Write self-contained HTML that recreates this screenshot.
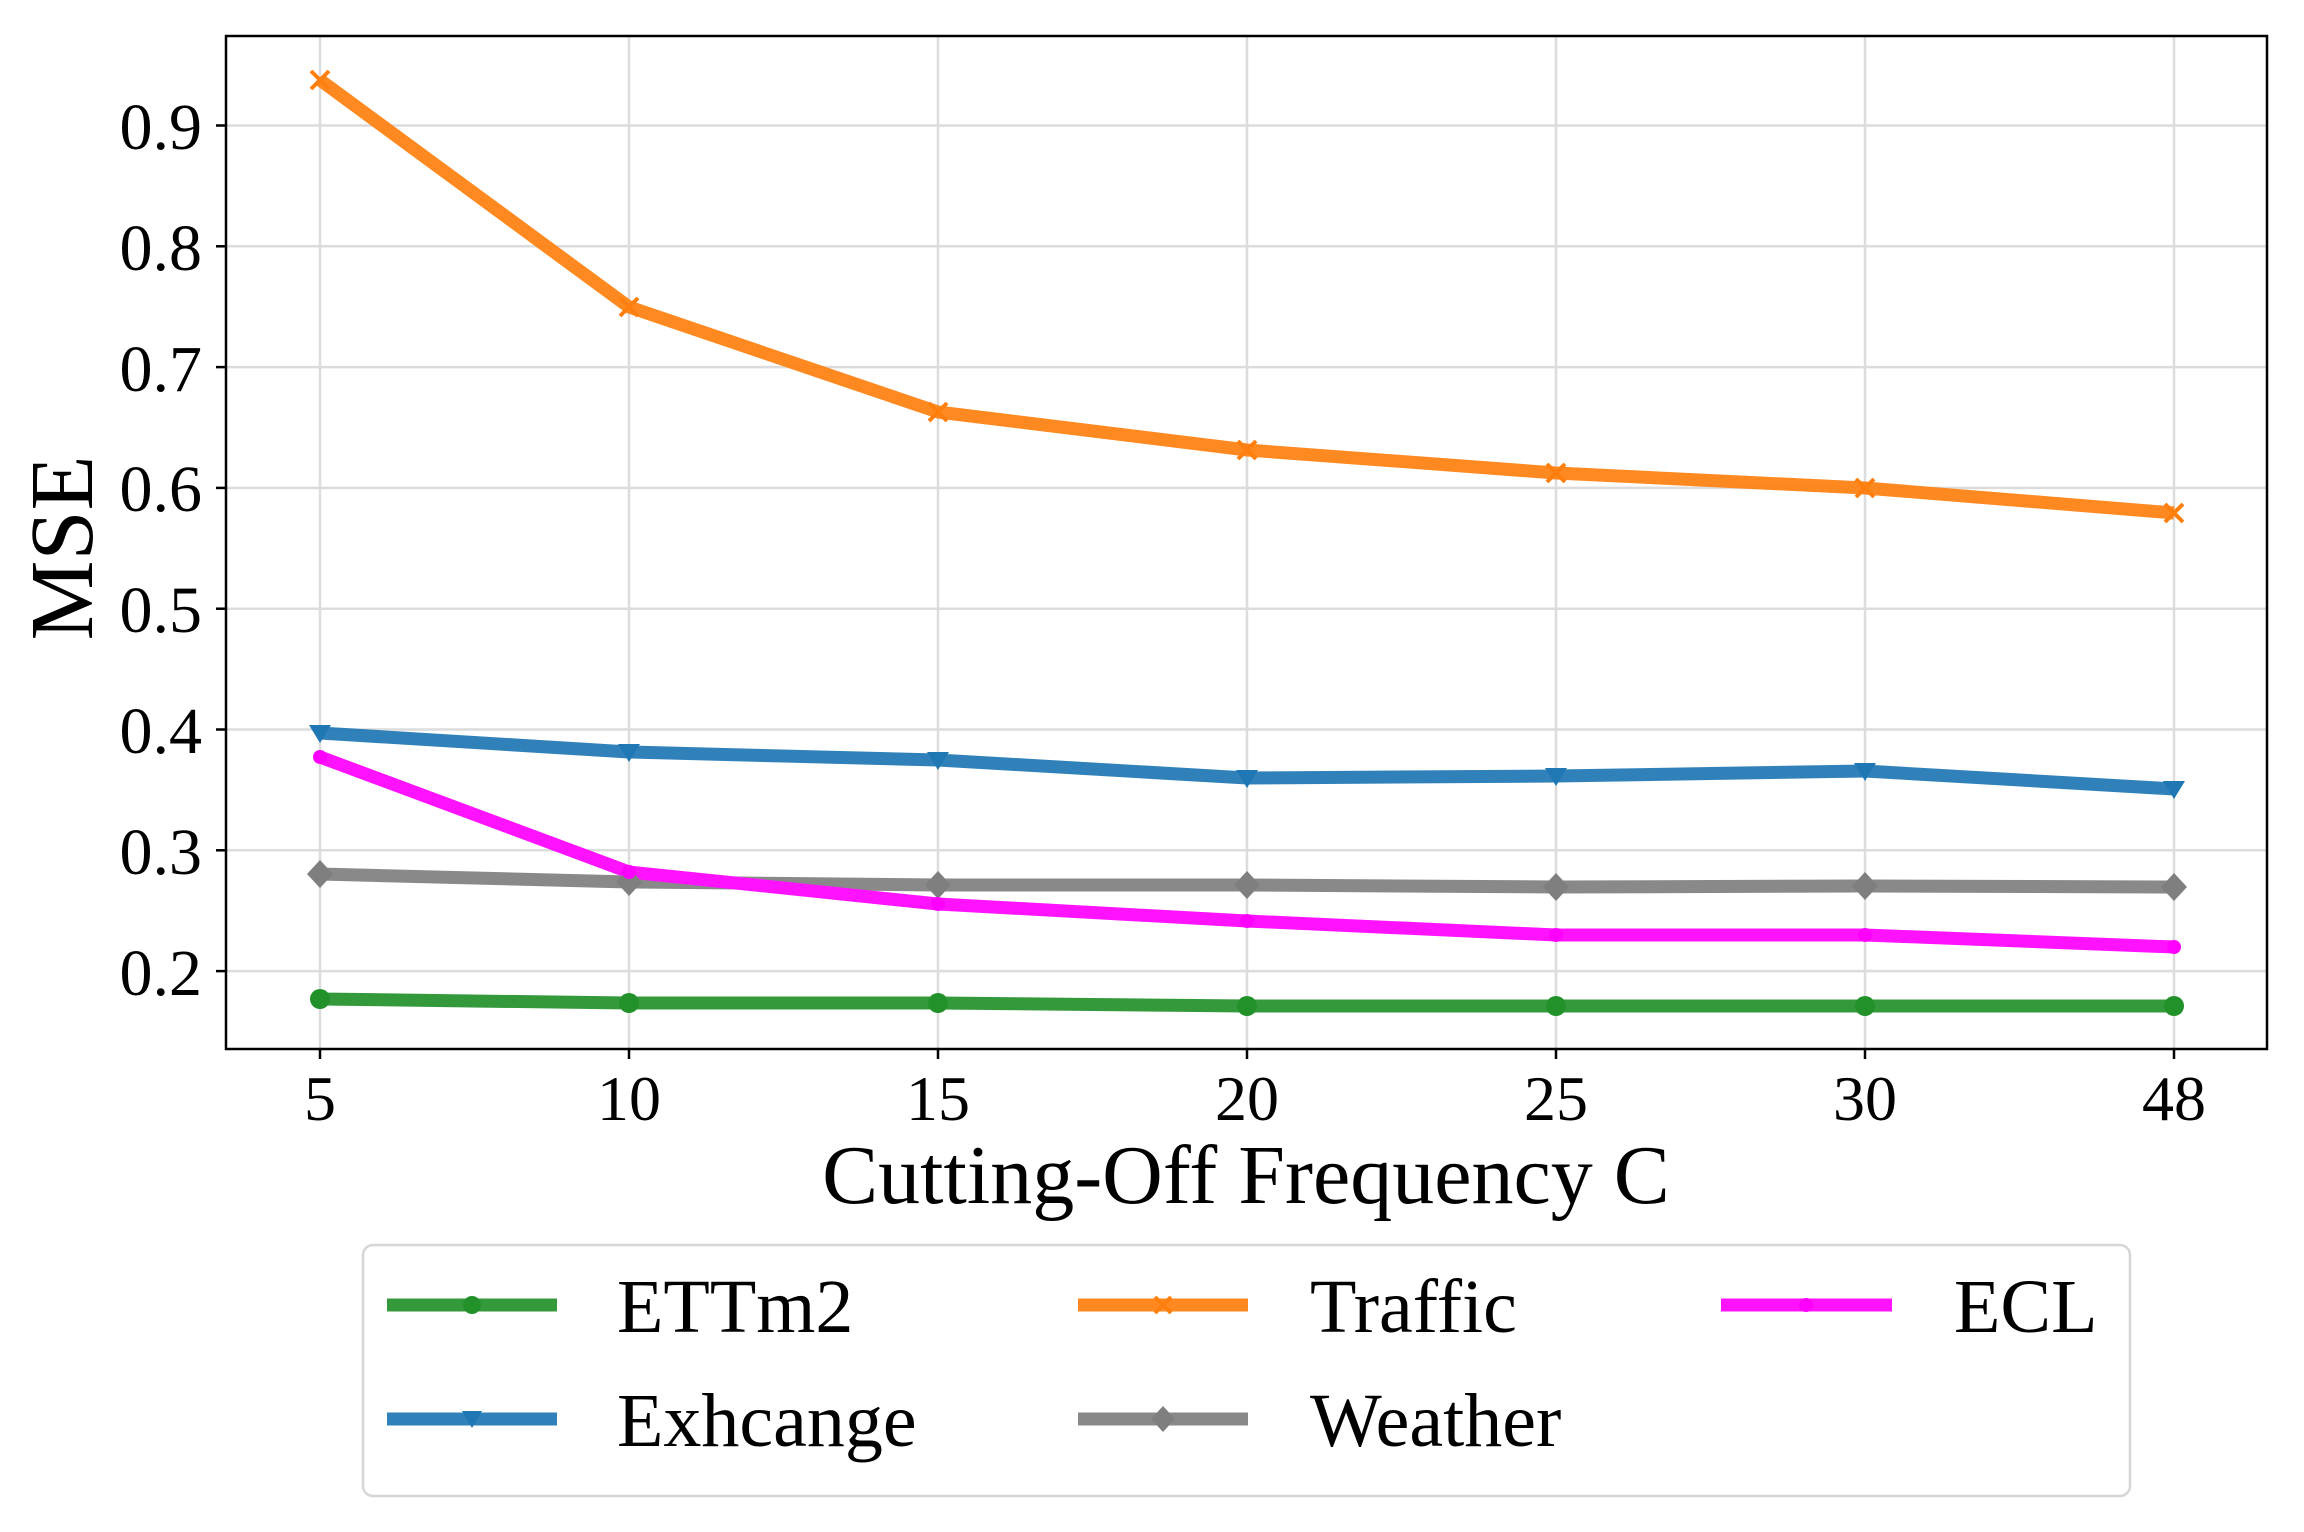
<!DOCTYPE html>
<html><head><meta charset="utf-8"><style>
html,body{margin:0;padding:0;background:#fff;}
svg{display:block;}
text{font-family:"Liberation Serif","DejaVu Serif",serif;fill:#000;}
</style></head><body>
<svg width="2304" height="1532" viewBox="0 0 2304 1532" xmlns="http://www.w3.org/2000/svg">
<rect width="2304" height="1532" fill="#fff"/>
<g stroke="#dcdcdc" stroke-width="2.5">
<line x1="226" y1="125.5" x2="2267" y2="125.5"/>
<line x1="226" y1="246.3" x2="2267" y2="246.3"/>
<line x1="226" y1="367.1" x2="2267" y2="367.1"/>
<line x1="226" y1="487.9" x2="2267" y2="487.9"/>
<line x1="226" y1="608.7" x2="2267" y2="608.7"/>
<line x1="226" y1="729.5" x2="2267" y2="729.5"/>
<line x1="226" y1="850.3" x2="2267" y2="850.3"/>
<line x1="226" y1="971.1" x2="2267" y2="971.1"/>
<line x1="320" y1="36" x2="320" y2="1049"/>
<line x1="629" y1="36" x2="629" y2="1049"/>
<line x1="938" y1="36" x2="938" y2="1049"/>
<line x1="1247" y1="36" x2="1247" y2="1049"/>
<line x1="1556" y1="36" x2="1556" y2="1049"/>
<line x1="1865" y1="36" x2="1865" y2="1049"/>
<line x1="2174" y1="36" x2="2174" y2="1049"/>
</g>
<g stroke="#000" stroke-width="2.5">
<line x1="216" y1="125.5" x2="226" y2="125.5"/><line x1="216" y1="246.3" x2="226" y2="246.3"/>
<line x1="216" y1="367.1" x2="226" y2="367.1"/><line x1="216" y1="487.9" x2="226" y2="487.9"/>
<line x1="216" y1="608.7" x2="226" y2="608.7"/><line x1="216" y1="729.5" x2="226" y2="729.5"/>
<line x1="216" y1="850.3" x2="226" y2="850.3"/><line x1="216" y1="971.1" x2="226" y2="971.1"/>
<line x1="320" y1="1049" x2="320" y2="1059"/><line x1="629" y1="1049" x2="629" y2="1059"/>
<line x1="938" y1="1049" x2="938" y2="1059"/><line x1="1247" y1="1049" x2="1247" y2="1059"/>
<line x1="1556" y1="1049" x2="1556" y2="1059"/><line x1="1865" y1="1049" x2="1865" y2="1059"/>
<line x1="2174" y1="1049" x2="2174" y2="1059"/>
</g>
<g font-size="66" text-anchor="end">
<text x="202" y="149">0.9</text><text x="202" y="270">0.8</text><text x="202" y="391">0.7</text>
<text x="202" y="511">0.6</text><text x="202" y="632">0.5</text><text x="202" y="753">0.4</text>
<text x="202" y="874">0.3</text><text x="202" y="995">0.2</text>
</g>
<g font-size="64" text-anchor="middle">
<text x="320" y="1120">5</text><text x="629" y="1120">10</text><text x="938" y="1120">15</text>
<text x="1247" y="1120">20</text><text x="1556" y="1120">25</text><text x="1865" y="1120">30</text>
<text x="2174" y="1120">48</text>
</g>
<text x="1246" y="1203" font-size="84" text-anchor="middle">Cutting-Off Frequency C</text>
<text transform="translate(92,548) rotate(-90)" font-size="90" text-anchor="middle">MSE</text>
<g fill="none" stroke-width="13" stroke-linejoin="round" opacity="0.92">
<polyline stroke="#23912a" points="320,999 629,1003 938,1003 1247,1006 1556,1006 1865,1006 2174,1006"/>
<polyline stroke="#7f7f7f" points="320,874 629,882 938,885 1247,885 1556,887 1865,886 2174,887"/>
<polyline stroke="#ff00ff" points="320,757 629,872 938,904 1247,921 1556,935 1865,935 2174,947"/>
<polyline stroke="#1f77b4" points="320,733 629,752 938,760 1247,778 1556,776 1865,771 2174,789"/>
<polyline stroke="#ff7f0e" points="320,80 629,307 938,412 1247,450 1556,473 1865,488 2174,513"/>
</g>
<g fill="#23912a">
<circle cx="320" cy="999" r="10"/><circle cx="629" cy="1003" r="10"/><circle cx="938" cy="1003" r="10"/>
<circle cx="1247" cy="1006" r="10"/><circle cx="1556" cy="1006" r="10"/><circle cx="1865" cy="1006" r="10"/><circle cx="2174" cy="1006" r="10"/>
</g>
<g fill="#7f7f7f">
<path d="M320,860 l13,14 l-13,14 l-13,-14z"/><path d="M629,868 l13,14 l-13,14 l-13,-14z"/>
<path d="M938,871 l13,14 l-13,14 l-13,-14z"/><path d="M1247,871 l13,14 l-13,14 l-13,-14z"/>
<path d="M1556,873 l13,14 l-13,14 l-13,-14z"/><path d="M1865,872 l13,14 l-13,14 l-13,-14z"/>
<path d="M2174,873 l13,14 l-13,14 l-13,-14z"/>
</g>
<g fill="#ff00ff">
<circle cx="320" cy="757" r="7"/><circle cx="629" cy="872" r="7"/><circle cx="938" cy="904" r="7"/>
<circle cx="1247" cy="921" r="7"/><circle cx="1556" cy="935" r="7"/><circle cx="1865" cy="935" r="7"/><circle cx="2174" cy="947" r="7"/>
</g>
<g fill="#1f77b4">
<path d="M309,725 h22 l-11,18z"/><path d="M618,744 h22 l-11,18z"/><path d="M927,752 h22 l-11,18z"/>
<path d="M1236,770 h22 l-11,18z"/><path d="M1545,768 h22 l-11,18z"/><path d="M1854,763 h22 l-11,18z"/>
<path d="M2163,781 h22 l-11,18z"/>
</g>
<g stroke="#ff7f0e" stroke-width="4">
<path d="M311,71 l18,18 M329,71 l-18,18"/><path d="M620,298 l18,18 M638,298 l-18,18"/>
<path d="M929,403 l18,18 M947,403 l-18,18"/><path d="M1238,441 l18,18 M1256,441 l-18,18"/>
<path d="M1547,464 l18,18 M1565,464 l-18,18"/><path d="M1856,479 l18,18 M1874,479 l-18,18"/>
<path d="M2165,504 l18,18 M2183,504 l-18,18"/>
</g>
<rect x="226" y="36" width="2041" height="1013" fill="none" stroke="#000" stroke-width="2.5"/>
<rect x="363" y="1245" width="1767" height="251" rx="10" fill="#fff" stroke="#d6d6d6" stroke-width="2.5"/>
<g stroke-width="13" opacity="0.92">
<line x1="387" y1="1305" x2="557" y2="1305" stroke="#23912a"/>
<line x1="1078" y1="1305" x2="1248" y2="1305" stroke="#ff7f0e"/>
<line x1="1721" y1="1305" x2="1892" y2="1305" stroke="#ff00ff"/>
<line x1="387" y1="1419" x2="557" y2="1419" stroke="#1f77b4"/>
<line x1="1078" y1="1419" x2="1248" y2="1419" stroke="#7f7f7f"/>
</g>
<circle cx="472" cy="1305" r="9" fill="#23912a"/>
<circle cx="1806" cy="1305" r="7" fill="#ff00ff"/>
<path d="M1155,1297 l16,16 M1171,1297 l-16,16" stroke="#ff7f0e" stroke-width="4"/>
<path d="M462,1411 h20 l-10,17z" fill="#1f77b4"/>
<path d="M1163,1406 l12,13 l-12,13 l-12,-13z" fill="#7f7f7f"/>
<g font-size="76">
<text x="617" y="1332">ETTm2</text>
<text x="1310" y="1332">Traffic</text>
<text x="1954" y="1332">ECL</text>
<text x="617" y="1446">Exhcange</text>
<text x="1310" y="1446">Weather</text>
</g>
</svg>
</body></html>
